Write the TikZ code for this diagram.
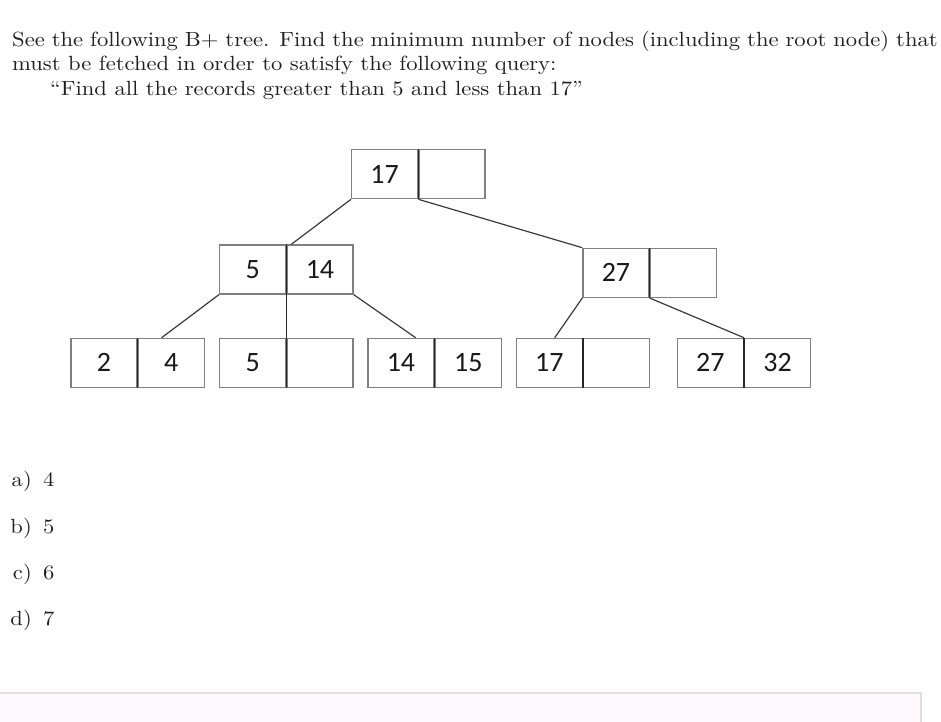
\documentclass[tikz,border=0pt]{standalone}
\usepackage{fontspec}
\newfontfamily\cellfont{Carlito}
\usetikzlibrary{positioning}
\definecolor{cellgray}{HTML}{808080}
\definecolor{linkgray}{HTML}{3A3A3A}
\definecolor{boxfill}{HTML}{FDF9FD}
\definecolor{boxline}{HTML}{E0DCE0}
\tikzset{
  cell/.style={draw=cellgray, line width=1.3pt, minimum width=66pt, minimum height=49pt,
    inner sep=0pt, anchor=north west, text=black!90, font=\cellfont\fontsize{28}{30}\selectfont},
  link/.style={draw=linkgray, line width=1.2pt},
  divider/.style={draw=black!85, line width=1.1pt},
  qtext/.style={anchor=base west, inner sep=0pt, text=black!88},
  optlabel/.style={anchor=base east, inner sep=0pt, text=black!88},
  optnum/.style={anchor=base west, inner sep=0pt, text=black!88}
}
\newcommand{\bigtxt}[1]{\scalebox{2.26}[2.05]{#1}}
\begin{document}
\begin{tikzpicture}[x=1pt,y=-1pt]
\useasboundingbox (0,0) rectangle (941,721);
% question text
\node[qtext] (q1) at (12,46) {\bigtxt{\makebox[409.5pt][s]{See the following B+ tree. Find the minimum number of nodes (including the root node) that}}};
\node[qtext] (q2) at (12,70.7) {\bigtxt{must be fetched in order to satisfy the following query:}};
\node[qtext] (q3) at (50,95) {\bigtxt{``Find all the records greater than 5 and less than 17''}};
% tree nodes
\node[cell] (r1) at (351,149) {17};
\node[cell] (r2) at (r1.north east) {};
\node[cell] (iL1) at (219,244.3) {5};
\node[cell] (iL2) at (iL1.north east) {14};
\node[cell] (iR1) at (582.3,247.7) {27};
\node[cell] (iR2) at (iR1.north east) {};
\node[cell] (L1a) at (70.3,337.7) {2};
\node[cell] (L1b) at (L1a.north east) {4};
\node[cell] (L2a) at (219,337.7) {5};
\node[cell] (L2b) at (L2a.north east) {};
\node[cell] (L3a) at (367.3,337.7) {14};
\node[cell] (L3b) at (L3a.north east) {15};
\node[cell] (L4a) at (515.7,337.7) {17};
\node[cell] (L4b) at (L4a.north east) {};
\node[cell] (L5a) at (676.7,337.7) {27};
\node[cell] (L5b) at (L5a.north east) {32};
% dividers
\foreach \n in {r1,iL1,iR1,L1a,L2a,L3a,L4a,L5a}{
  \draw[divider] (\n.north east) -- (\n.south east);
}
% connectors
\draw[link] (r1.south west) -- ([xshift=5pt]iL2.north west);
\draw[link] (r1.south east) -- (iR1.north west);
\draw[link] (iL1.south west) -- ([xshift=24pt]L1b.north west);
\draw[divider] (iL1.south east) -- (L2a.north east);
\draw[link] (iL2.south east) -- ([xshift=-19pt]L3b.north west);
\draw[link] (iR1.south west) -- ([xshift=39pt]L4a.north west);
\draw[link] (iR1.south east) -- (L5a.north east);
% options
\node[optlabel] (oa) at (32,486.7) {\bigtxt{a)}};
\node[optnum] (na) at (43,486.7) {\bigtxt{4}};
\node[optlabel] (ob) at (32,533) {\bigtxt{b)}};
\node[optnum] (nb) at (43,533) {\bigtxt{5}};
\node[optlabel] (oc) at (32,579.3) {\bigtxt{c)}};
\node[optnum] (nc) at (43,579.3) {\bigtxt{6}};
\node[optlabel] (od) at (32,625.7) {\bigtxt{d)}};
\node[optnum] (nd) at (43,625.7) {\bigtxt{7}};
% answer box at bottom
\draw[draw=boxline, fill=boxfill, line width=1.5pt] (-3,693) rectangle (921,730);
\end{tikzpicture}
\end{document}
